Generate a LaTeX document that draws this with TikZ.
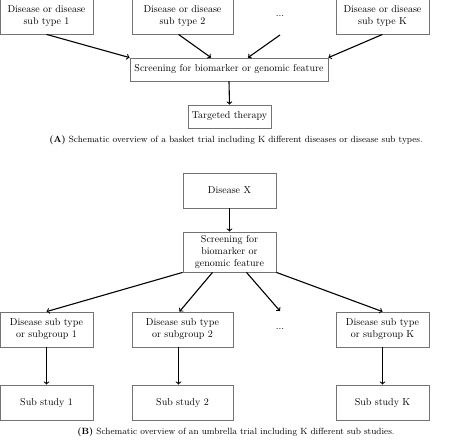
\documentclass[tikz,border=0pt]{standalone}
\usetikzlibrary{calc}
\begin{document}
\begin{tikzpicture}[x=1pt,y=-1pt,
  box/.style={draw=black!55, line width=0.8pt, align=center, inner sep=2pt, font=\normalsize},
  arr/.style={->, line width=1.1pt, black},
  captext/.style={font=\small, inner sep=0pt}]
\useasboundingbox (0,0) rectangle (474,440);
% Part A
\node[box, minimum width=93pt, minimum height=35pt] (d1) at (46.5,16.5) {Disease or disease\\sub type 1};
\node[box, minimum width=101pt, minimum height=35pt] (d2) at (182.5,16.5) {Disease or disease\\sub type 2};
\node[inner sep=0pt] (dotsA) at (280,16) {...};
\coordinate (dotsAb) at (280,35);
\node[box, minimum width=93pt, minimum height=35pt] (dK) at (382.5,16.5) {Disease or disease\\sub type K};
\node[box, minimum width=198pt, minimum height=23pt] (scr) at (229,69.5) {Screening for biomarker or genomic feature};
\node[box, minimum width=83pt, minimum height=23pt] (tt) at (229.5,116.5) {Targeted therapy};
\node[captext] (capA) at (236,140) {\textbf{(A)} Schematic overview of a basket trial including K different diseases or disease sub types.};
\draw[arr] (d1.south) -- (scr.north west);
\draw[arr] ($(d2.south)+(-4,0)$) -- ($(scr.north)+(-18,0)$);
\draw[arr] (dotsAb) -- ($(scr.north)+(19,0)$);
\draw[arr] (dK.south) -- (scr.north east);
\draw[arr] (scr.south) -- (tt.north);
% Part B
\node[box, minimum width=93pt, minimum height=35pt] (X) at (229.5,190.5) {Disease X};
\node[box, minimum width=93pt, minimum height=40pt, inner sep=1pt] (scr2) at (229.5,252) {Screening for\\biomarker or\\genomic feature};
\draw[arr] (X.south) -- (scr2.north);
\node[box, minimum width=93pt, minimum height=35pt] (s1) at (46.5,329.5) {Disease sub type\\or subgroup 1};
\node[box, minimum width=101pt, minimum height=35pt] (s2) at (182.5,329.5) {Disease sub type\\or subgroup 2};
\node[inner sep=0pt] (dotsB) at (280,329) {...};
\coordinate (dotsBt) at (280,311);
\node[box, minimum width=93pt, minimum height=35pt] (sK) at (382.5,329.5) {Disease sub type\\or subgroup K};
\node[box, minimum width=93pt, minimum height=35pt] (st1) at (46.5,402.5) {Sub study 1};
\node[box, minimum width=101pt, minimum height=35pt] (st2) at (182.5,402.5) {Sub study 2};
\node[box, minimum width=93pt, minimum height=35pt] (stK) at (382.5,402.5) {Sub study K};
\node[captext] (capB) at (236,432) {\textbf{(B)} Schematic overview of an umbrella trial including K different sub studies.};
\draw[arr] (scr2.south west) -- (s1.north);
\draw[arr] ($(scr2.south)+(-17,0)$) -- ($(s2.north)+(-3,0)$);
\draw[arr] ($(scr2.south)+(17,0)$) -- (dotsBt);
\draw[arr] (scr2.south east) -- (sK.north);
\draw[arr] ($(s1.south)$) -- (st1.north);
\draw[arr] ($(s2.south)+(-4,0)$) -- ($(st2.north)+(-4,0)$);
\draw[arr] (sK.south) -- (stK.north);
\end{tikzpicture}
\end{document}
